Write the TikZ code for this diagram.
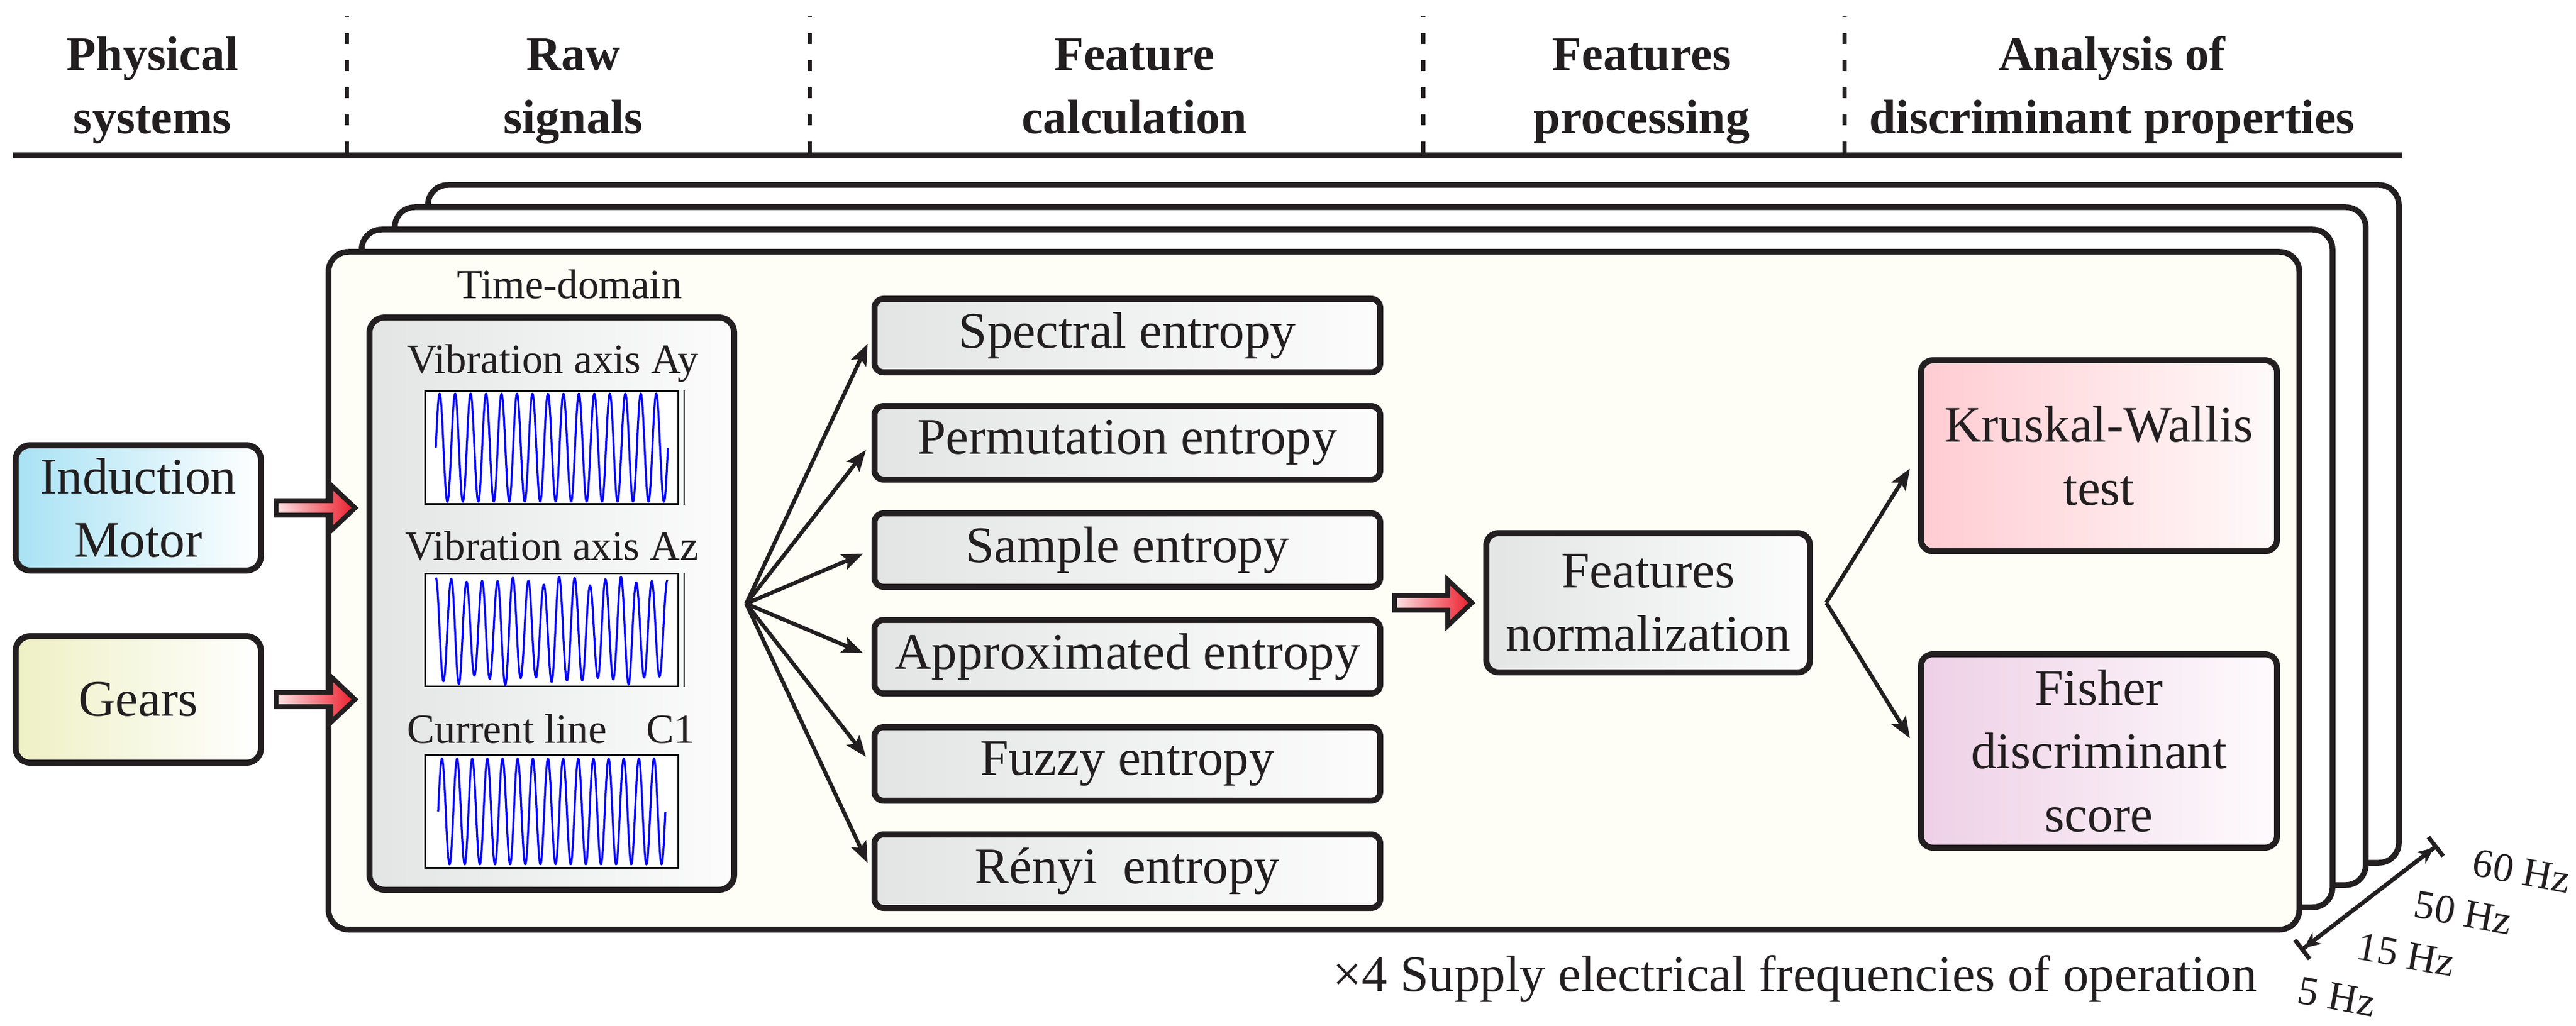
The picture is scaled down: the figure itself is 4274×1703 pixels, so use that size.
\documentclass[tikz,border=0pt]{standalone}
\usepackage{fontspec}
\setmainfont{Liberation Serif}
\usetikzlibrary{arrows.meta,calc}
\definecolor{txt}{HTML}{231F20}
\definecolor{gleft}{HTML}{E3E5E5}
\definecolor{gright}{HTML}{FCFCFC}
\definecolor{imleft}{HTML}{A8E2F4}
\definecolor{geleft}{HTML}{EEF0C4}
\definecolor{kwleft}{HTML}{FFCCD2}
\definecolor{kwright}{HTML}{FFFAFA}
\definecolor{fsleft}{HTML}{EED0E6}
\definecolor{fsright}{HTML}{FEFBFD}
\definecolor{rleft}{HTML}{FCE4E6}
\definecolor{rright}{HTML}{EC1C2B}
\definecolor{cream}{HTML}{FEFEF6}
\definecolor{sigblue}{HTML}{0000FF}
\newcommand{\redarrow}[2]{%
  \path[redarr] let \p1=(#1), \p2=(#2) in
    (\x1,{\y1+2.4pt}) -- ({\x2-8pt},{\y1+2.4pt}) -- ({\x2-8pt},{\y1+7.6pt})
    -- (\x2,\y1) -- ({\x2-8pt},{\y1-7.6pt}) -- ({\x2-8pt},{\y1-2.4pt})
    -- (\x1,{\y1-2.4pt}) -- cycle;}
\begin{document}
\begin{tikzpicture}[x=0.2pt, y=-0.2pt, color=txt,
  big/.style={font=\fontsize{17}{21}\selectfont},
  small/.style={font=\fontsize{13.8}{16}\selectfont},
  head/.style={font=\bfseries\fontsize{16}{21}\selectfont, align=center, inner sep=0pt},
  box/.style={draw=txt, line width=2pt, rounded corners=4pt, inner sep=0pt, align=center, big},
  graybox/.style={box, left color=gleft, right color=gright},
  ebox/.style={graybox, rounded corners=3pt, minimum width=167.8pt, minimum height=24.4pt},
  frame/.style={draw=txt, line width=1.9pt, rounded corners=6.6pt},
  conn/.style={line width=1.3pt, -{Stealth[length=7pt,width=5.4pt,inset=1.4pt]}},
  redarr/.style={draw=txt, line width=1.6pt, left color=rleft, right color=rright},
  pbox/.style={draw=black, fill=white, line width=0.55pt, minimum width=84pt, minimum height=37.4pt, inner sep=0pt},
  sig/.style={sigblue, line width=0.65pt, line join=round},
  lab/.style={small, inner sep=0pt, anchor=base},
  hz/.style={font=\fontsize{13.5}{16}\selectfont, inner sep=0pt, rotate=-10.5},
  sepline/.style={line width=1.4pt, dash pattern=on 3.6pt off 5.4pt}]
\useasboundingbox (0,0) rectangle (4274,1703);

% ---------- header (anchor at baseline of last line) ----------
\node[head, anchor=base] (h1) at (253,222) {Physical\\systems};
\node[head, anchor=base] (h2) at (951,222) {Raw\\signals};
\node[head, anchor=base] (h3) at (1882,222) {Feature\\calculation};
\node[head, anchor=base] (h4) at (2724,222) {Features\\processing};
\node[head, anchor=base] (h5) at (3504,222) {Analysis of\\discriminant properties};
\draw[line width=2pt] (21,258) -- (3986,258);
\foreach \sx in {575,1343,2361,3060}
  \draw[sepline] (\sx,253) -- (\sx,27);

% ---------- stacked frames ----------
\foreach \k in {3,2,1}
  \draw[frame, fill=white] ({545+55*\k},{418-37*\k}) rectangle ({3815+55*\k},{1543-37*\k});
\draw[frame, fill=cream] (545,418) rectangle (3815,1543);

% ---------- physical systems ----------
\node[box, left color=imleft, right color=white, rounded corners=4.8pt,
      minimum width=81.4pt, minimum height=41.6pt] (im) at (229.5,843) {Induction\\Motor};
\node[box, left color=geleft, right color=white, rounded corners=4.8pt,
      minimum width=81.4pt, minimum height=42pt] (ge) at (229.5,1161) {Gears};

% ---------- raw signals ----------
\node[lab] (tdl) at (945,496) {Time-domain};
\node[graybox, rounded corners=5pt, minimum width=121pt, minimum height=190pt] (td) at (915.5,1002) {};
\node[lab] (l1) at (917,620) {Vibration axis Ay};
\node[lab] (l2) at (916,929) {Vibration axis Az};
\node[lab] (l3) at (914,1233) {Current line\hspace{13pt}C1};
\node[pbox] (p1) at (915.5,743) {};
\node[pbox] (p2) at (915.5,1045.5) {};
\node[pbox] (p3) at (915.5,1347) {};
\draw[black, line width=0.55pt] ($(p1.north east)+(8,0)$) -- ($(p1.south east)+(8,0)$);
\draw[black, line width=0.55pt] ($(p2.north east)+(8,0)$) -- ($(p2.south east)+(8,0)$);
\draw[sig] plot[domain=0:15, samples=420] ({723+25.67*\x}, {743-90*sin(360*\x)});
\draw[sig] plot[domain=0:15, samples=420] ({723+25.6*\x}, {1046-(83+5*sin(97*\x)+4*cos(233*\x))*cos(360*\x)});
\draw[sig] plot[domain=0:15, samples=420] ({727+25.13*\x}, {1347-88*sin(360*\x)});

\redarrow{$(im.east)+(20,0)$}{$(td.west)+(-19,0)$}
\redarrow{$(ge.east)+(20,0)$}{$(td.west)+(-19,0)$}

% ---------- feature calculation ----------
\node[ebox] (e1) at (1870.5,557) {Spectral entropy};
\node[ebox] (e2) at (1870.5,735) {Permutation entropy};
\node[ebox] (e3) at (1870.5,913) {Sample entropy};
\node[ebox] (e4) at (1870.5,1090) {Approximated entropy};
\node[ebox] (e5) at (1870.5,1268) {Fuzzy entropy};
\node[ebox] (e6) at (1870.5,1446) {Rényi\ \ entropy};
\coordinate (fan) at ($(td.east)+(15,0)$);
\foreach \e in {e1,e2,e3,e4,e5,e6}
  \draw[conn, shorten >=3pt] (fan) -- (\e.west);

% ---------- features processing ----------
\node[graybox, minimum width=107.4pt, minimum height=46.2pt] (norm) at (2734.5,1000.5) {Features\\normalization};
\redarrow{$(e1.east |- norm.west)+(19,0)$}{$(norm.west)+(-19,0)$}

% ---------- analysis ----------
\node[box, left color=kwleft, right color=kwright, minimum width=118.2pt, minimum height=63.4pt] (kw) at (3482.5,756.5) {Kruskal-Wallis\\test};
\node[box, left color=fsleft, right color=fsright, minimum width=118.2pt, minimum height=64.2pt] (fs) at (3482.5,1246.5) {Fisher\\discriminant\\score};
\coordinate (br) at ($(norm.east)+(22,0)$);
\draw[conn, shorten >=5pt] (br) -- (kw.west);
\draw[conn, shorten >=5pt] (br) -- (fs.west);

% ---------- frequencies ----------
\coordinate (fa) at (3817,1578);
\coordinate (fb) at (4044,1403);
\draw[line width=1.4pt, {Bar[width=8pt]Stealth[length=5.5pt,width=4.8pt]}-{Stealth[length=5.5pt,width=4.8pt]Bar[width=8pt]}] (fa) -- (fb);
\node[hz] (f60) at (4184,1446) {60 Hz};
\node[hz] (f50) at (4087,1515) {50 Hz};
\node[hz] (f15) at (3992,1585) {15 Hz};
\node[hz] (f05) at (3877,1655) {5 Hz};
\node[big, anchor=base, inner sep=0pt] (cap) at (2978,1645) {×4 Supply electrical frequencies of operation};
\end{tikzpicture}
\end{document}
